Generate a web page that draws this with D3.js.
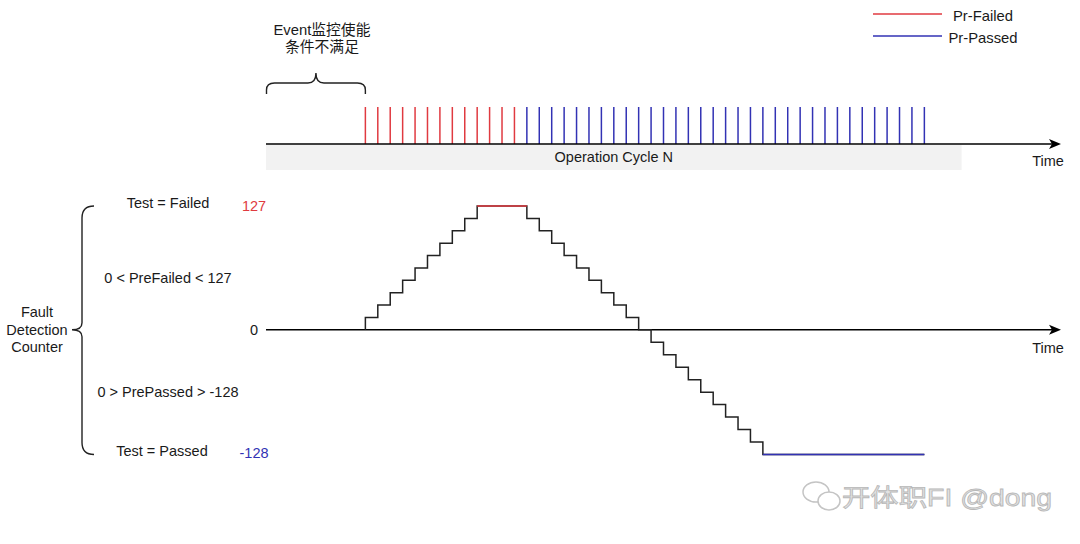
<!DOCTYPE html>
<html>
<head>
<meta charset="utf-8">
<script src="https://cdn.jsdelivr.net/npm/d3@7/dist/d3.min.js"></script>
<style>
  html, body { margin: 0; padding: 0; background: #fff; }
  svg { display: block; }
  text { font-family: "Liberation Sans", Arial, "Noto Sans CJK SC", sans-serif; fill: #1a1a1a; }
</style>
</head>
<body>
<svg id="chart" width="1080" height="544"></svg>
<script>
// ---------- DATA ----------
// Time (in test-cycle units) of each test report within Operation Cycle N
const pulseTimes = [8, 9, 10, 11, 12, 13, 14, 15, 16, 17, 18, 19, 20,
  21, 22, 23, 24, 25, 26, 27, 28, 29, 30, 31, 32, 33, 34, 35, 36, 37, 38, 39, 40,
  41, 42, 43, 44, 45, 46, 47, 48, 49, 50, 51, 52, 53];
// Result reported at each pulse
const pulseResults = [
  "Pr-Failed", "Pr-Failed", "Pr-Failed", "Pr-Failed", "Pr-Failed", "Pr-Failed", "Pr-Failed",
  "Pr-Failed", "Pr-Failed", "Pr-Failed", "Pr-Failed", "Pr-Failed", "Pr-Failed",
  "Pr-Passed", "Pr-Passed", "Pr-Passed", "Pr-Passed", "Pr-Passed", "Pr-Passed", "Pr-Passed",
  "Pr-Passed", "Pr-Passed", "Pr-Passed", "Pr-Passed", "Pr-Passed", "Pr-Passed", "Pr-Passed",
  "Pr-Passed", "Pr-Passed", "Pr-Passed", "Pr-Passed", "Pr-Passed", "Pr-Passed", "Pr-Passed",
  "Pr-Passed", "Pr-Passed", "Pr-Passed", "Pr-Passed", "Pr-Passed", "Pr-Passed", "Pr-Passed",
  "Pr-Passed", "Pr-Passed", "Pr-Passed", "Pr-Passed", "Pr-Passed"];
// Fault detection counter value after each pulse
const counterValues = [12.7, 25.4, 38.1, 50.8, 63.5, 76.2, 88.9, 101.6, 114.3, 127,
  127, 127, 127,
  114.3, 101.6, 88.9, 76.2, 63.5, 50.8, 38.1, 25.4, 12.7, 0,
  -12.8, -25.6, -38.4, -51.2, -64, -76.8, -89.6, -102.4, -115.2, -128,
  -128, -128, -128, -128, -128, -128, -128, -128, -128, -128, -128, -128, -128];
const counterStart = 0;
// Time window
const timeDomain = [0, 64];
const enableWindow = [0, 8];      // monitoring enable conditions not fulfilled
const cycleWindow = [0, 56];      // Operation Cycle N
// Counter axis
const counterDomain = [-128, 127];
const counterTicks = [127, 0, -128];
const counterTickLabels = ["127", "0", "-128"];
// Zone labels (counter value they refer to)
const zoneLabels = ["Test = Failed", "0 < PreFailed < 127", "0 > PrePassed > -128", "Test = Passed"];
const zoneValues = [130.5, 53.5, -63.5, -124];
// Legend
const legendItems = ["Pr-Failed", "Pr-Passed"];
const legendColors = ["#e03a40", "#3232b4"];
// Texts
const enableText = ["Event监控使能", "条件不满足"];
const fdcText = ["Fault", "Detection", "Counter"];
const cycleText = "Operation Cycle N";
const timeText = "Time";
const watermarkText = "开体职FI @dong";

// ---------- DRAW ----------
const svg = d3.select("#chart");
const color = d3.scaleOrdinal().domain(legendItems).range(legendColors);
const x = d3.scaleLinear().domain(timeDomain).range([266, 1061]);
const y = d3.scaleLinear().domain(counterDomain).range([454.5, 206]);
const fontSize = 14.5;

function arrow(yPos) {
  const tip = x(timeDomain[1]);
  svg.append("path")
    .attr("d", `M${tip},${yPos} L${tip - 12},${yPos - 5} L${tip - 9},${yPos} L${tip - 12},${yPos + 5} Z`)
    .attr("fill", "#000");
}

// ---- Top timeline ----
const topBase = 144;
const pulseTop = 107;

svg.append("rect")
  .attr("x", x(cycleWindow[0])).attr("y", topBase + 1)
  .attr("width", x(cycleWindow[1]) - x(cycleWindow[0])).attr("height", 25)
  .attr("fill", "#f2f2f2");

svg.append("text")
  .attr("x", (x(cycleWindow[0]) + x(cycleWindow[1])) / 2)
  .attr("y", 157).attr("dy", "0.35em")
  .attr("text-anchor", "middle").attr("font-size", fontSize)
  .text(cycleText);

svg.selectAll("line.pulse")
  .data(pulseTimes.map((t, i) => ({ t, r: pulseResults[i] })))
  .join("line").attr("class", "pulse")
  .attr("x1", d => x(d.t)).attr("x2", d => x(d.t))
  .attr("y1", pulseTop).attr("y2", topBase)
  .attr("stroke", d => color(d.r)).attr("stroke-width", 1.5);

svg.append("line")
  .attr("x1", x(timeDomain[0])).attr("x2", x(timeDomain[1]) - 8)
  .attr("y1", topBase).attr("y2", topBase)
  .attr("stroke", "#000").attr("stroke-width", 1.5);
arrow(topBase);

svg.append("text")
  .attr("x", 1048).attr("y", 161).attr("dy", "0.35em")
  .attr("text-anchor", "middle").attr("font-size", fontSize).text(timeText);

// horizontal brace over enable window
{
  const x0 = x(enableWindow[0]) + 0.5, x1 = x(enableWindow[1]);
  const xm = (x0 + x1) / 2, yb = 94, yl = 83, yt = 73;
  svg.append("path")
    .attr("d", `M${x0},${yb} L${x0},${yl + 7} Q${x0},${yl} ${x0 + 8},${yl} L${xm - 8},${yl} Q${xm},${yl} ${xm},${yt}
                Q${xm},${yl} ${xm + 8},${yl} L${x1 - 8},${yl} Q${x1},${yl} ${x1},${yl + 7} L${x1},${yb}`)
    .attr("fill", "none").attr("stroke", "#222").attr("stroke-width", 1.4);
  svg.selectAll("text.enable").data(enableText).join("text").attr("class", "enable")
    .attr("x", xm + 6).attr("y", (d, i) => 30 + i * 16.5).attr("dy", "0.35em")
    .attr("text-anchor", "middle").attr("font-size", 14.8).text(d => d);
}

// legend
legendItems.forEach((name, i) => {
  const ly = 14 + i * 22;
  svg.append("line").attr("x1", 873).attr("x2", 942).attr("y1", ly).attr("y2", ly)
    .attr("stroke", color(name)).attr("stroke-width", 1.5);
  svg.append("text").attr("x", 983).attr("y", ly + 2).attr("dy", "0.35em")
    .attr("text-anchor", "middle").attr("font-size", 14.8).text(name);
});

// ---- Lower counter chart ----
const y0 = y(0);
svg.append("line")
  .attr("x1", x(timeDomain[0])).attr("x2", x(timeDomain[1]) - 8)
  .attr("y1", y0).attr("y2", y0)
  .attr("stroke", "#000").attr("stroke-width", 1.5);
arrow(y0);
svg.append("text")
  .attr("x", 1048).attr("y", 348).attr("dy", "0.35em")
  .attr("text-anchor", "middle").attr("font-size", fontSize).text(timeText);

// tick labels
const tickColors = [legendColors[0], "#1a1a1a", legendColors[1]];
svg.selectAll("text.tick").data(counterTicks).join("text").attr("class", "tick")
  .attr("x", 254).attr("y", (d, i) => y(d) + (i === 2 ? -1.5 : 0)).attr("dy", "0.35em")
  .attr("text-anchor", "middle").attr("font-size", fontSize)
  .style("fill", (d, i) => tickColors[i])
  .text((d, i) => counterTickLabels[i]);

// zone labels
svg.selectAll("text.zone").data(zoneLabels).join("text").attr("class", "zone")
  .attr("x", (d, i) => i === 3 ? 162 : 168).attr("y", (d, i) => y(zoneValues[i])).attr("dy", "0.35em")
  .attr("text-anchor", "middle").attr("font-size", fontSize).text(d => d);

// vertical brace
{
  const xe = 94, xv = 82, xt = 72, yt = y(counterDomain[1]), yb = y(counterDomain[0]), ym = y0;
  svg.append("path")
    .attr("d", `M${xe},${yt} Q${xv},${yt} ${xv},${yt + 12} L${xv},${ym - 7} Q${xv},${ym} ${xt},${ym}
                Q${xv},${ym} ${xv},${ym + 7} L${xv},${yb - 12} Q${xv},${yb} ${xe},${yb}`)
    .attr("fill", "none").attr("stroke", "#222").attr("stroke-width", 1.4);
  svg.selectAll("text.fdc").data(fdcText).join("text").attr("class", "fdc")
    .attr("x", 37).attr("y", (d, i) => ym - 17.5 + i * 17.5).attr("dy", "0.35em")
    .attr("text-anchor", "middle").attr("font-size", fontSize).text(d => d);
}

// counter staircase
const pts = [[pulseTimes[0], counterStart]].concat(pulseTimes.map((t, i) => [t, counterValues[i]]));
const stepLine = d3.line().x(d => x(d[0])).y(d => y(d[1])).curve(d3.curveStepAfter);
svg.append("path").attr("d", stepLine(pts))
  .attr("fill", "none").attr("stroke", "#222").attr("stroke-width", 1.5);

// saturated segments coloured
const maxV = d3.max(counterValues), minV = d3.min(counterValues);
function segment(val, col) {
  const idx = counterValues.map((v, i) => v === val ? i : -1).filter(i => i >= 0);
  const first = idx[0], last = idx[idx.length - 1];
  const tEnd = last + 1 < pulseTimes.length ? pulseTimes[last + 1] : pulseTimes[last];
  svg.append("line")
    .attr("x1", x(pulseTimes[first])).attr("x2", x(tEnd))
    .attr("y1", y(val)).attr("y2", y(val))
    .attr("stroke", col).attr("stroke-width", 1.5);
}
segment(maxV, legendColors[0]);
segment(minV, legendColors[1]);

// watermark
{
  const g = svg.append("g");
  g.append("ellipse").attr("cx", 816).attr("cy", 492).attr("rx", 13).attr("ry", 10)
    .attr("fill", "#fff").attr("stroke", "#c4c4c4").attr("stroke-width", 1.5);
  g.append("ellipse").attr("cx", 829).attr("cy", 501).attr("rx", 11).attr("ry", 9)
    .attr("fill", "#fff").attr("stroke", "#c4c4c4").attr("stroke-width", 1.5);
  g.append("text").attr("x", 842).attr("y", 506).attr("font-size", 24)
    .attr("textLength", 210).attr("lengthAdjust", "spacingAndGlyphs")
    .style("fill", "#e2e2e2").style("stroke", "#b8b8b8").style("stroke-width", 0.8)
    .text(watermarkText);
}
</script>
</body>
</html>
